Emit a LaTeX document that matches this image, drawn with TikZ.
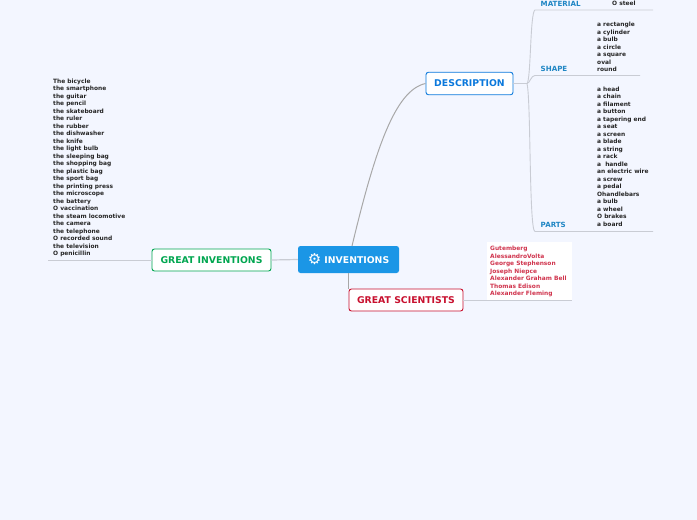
\documentclass[tikz,border=0pt]{standalone}
\usepackage{fontspec}
\setmainfont{DejaVu Sans}
\definecolor{bgc}{HTML}{F3F6FF}
\definecolor{cent}{HTML}{1B96E6}
\definecolor{blu}{HTML}{0A78DC}
\definecolor{grn}{HTML}{00A650}
\definecolor{redc}{HTML}{C8102E}
\definecolor{sub}{HTML}{1F86C4}
\definecolor{lin}{HTML}{C9CCD4}
\definecolor{lind}{HTML}{A8A8A8}
\tikzset{
  topic/.style={draw,rounded corners=2.5pt,fill=white,line width=.9pt,font=\bfseries\fontsize{9.3}{10}\selectfont,inner sep=0pt,minimum height=22pt,anchor=center},
  leaflist/.style={anchor=north west,inner sep=0pt,align=left,text=black!85,font=\bfseries\fontsize{5.9}{7.5}\selectfont},
  subl/.style={anchor=base west,inner sep=0pt,text=sub,font=\bfseries\fontsize{7.1}{8}\selectfont},
  conn/.style={draw=lin,line width=.9pt},
}
\begin{document}
\begin{tikzpicture}[x=1pt,y=-1pt]
\useasboundingbox[fill=bgc] (0,0) rectangle (697,520);
% nodes
\node[fill=cent,rounded corners=2.5pt,text=white,font=\bfseries\fontsize{9.3}{10}\selectfont,minimum width=101pt,minimum height=27pt,inner sep=0pt] (root) at (348.5,259.5) {{\fontsize{15}{15}\selectfont\raisebox{-1pt}{⚙}} INVENTIONS};
\node[topic,draw=blu,text=blu,minimum width=87pt,minimum height=22.5pt] (desc) at (469.5,83.5) {DESCRIPTION};
\node[topic,draw=grn,text=grn,minimum width=119pt] (gi) at (211.5,260) {GREAT INVENTIONS};
\node[topic,draw=redc,text=redc,minimum width=114pt] (gs) at (406,300) {GREAT SCIENTISTS};
\node[subl] (mat) at (540.5,6) {MATERIAL};
\node[subl] (sha) at (540.5,71.5) {SHAPE};
\node[subl] (par) at (540.5,227.5) {PARTS};
\coordinate (fork) at (527,83.5);
\coordinate (matS) at (535,10);
\coordinate (matE) at (653,10);
\coordinate (shaS) at (535,75.5);
\coordinate (shaE) at (640,75.5);
\coordinate (parS) at (535,231.5);
\coordinate (parE) at (653,231.5);
\coordinate (invE) at (48,260);
\coordinate (sciE) at (572,300);
\coordinate (rt) at (352,246);
\coordinate (rb) at (348.5,273);
% connectors
\draw[draw=lind,line width=1pt] (rt) .. controls (375,150) and (395,90) .. (desc.west);
\draw[conn,line width=1.2pt] (desc.east) -- (fork);
\draw[conn] (fork) .. controls (531,80) and (530,12) .. (matS) -- (matE);
\draw[conn] (fork) .. controls (530,83) and (531,75.5) .. (shaS) -- (shaE);
\draw[conn] (fork) .. controls (531,100) and (529,231.5) .. (parS) -- (parE);
\draw[conn,line width=1.2pt] (root.west) -- (gi.east);
\draw[conn] (gi.west) -- (invE);
\draw[draw=lind,line width=1pt] (rb) -- (rb |- gs.north);
\fill[white] (487,242) rectangle (572,300);
\draw[conn] (gs.east) -- (sciE);
% lists
\node[leaflist] (invlist) at (53,78.5) {The bicycle\\the smartphone\\the guitar\\the pencil\\the skateboard\\the ruler\\the rubber\\the dishwasher\\the knife\\the light bulb\\the sleeping bag\\the shopping bag\\the plastic bag\\the sport bag\\the printing press\\the microscope\\the battery\\O vaccination\\the steam locomotive\\the camera\\the telephone\\O recorded sound\\the television\\O penicillin};
\node[leaflist] (steel) at (612,1) {O steel};
\node[leaflist] (shapelist) at (597,22) {a rectangle\\a cylinder\\a bulb\\a circle\\a square\\oval\\round};
\node[leaflist] (partslist) at (597,86.5) {a head\\a chain\\a filament\\a button\\a tapering end\\a seat\\a screen\\a blade\\a string\\a rack\\a\ \ handle\\an electric wire\\a screw\\a pedal\\Ohandlebars\\a bulb\\a wheel\\O brakes\\a board};
\node[leaflist,text=redc!85!white] (scilist) at (490,246) {Gutemberg\\AlessandroVolta\\George Stephenson\\Joseph Niepce\\Alexander Graham Bell\\Thomas Edison\\Alexander Fleming};
\end{tikzpicture}
\end{document}
